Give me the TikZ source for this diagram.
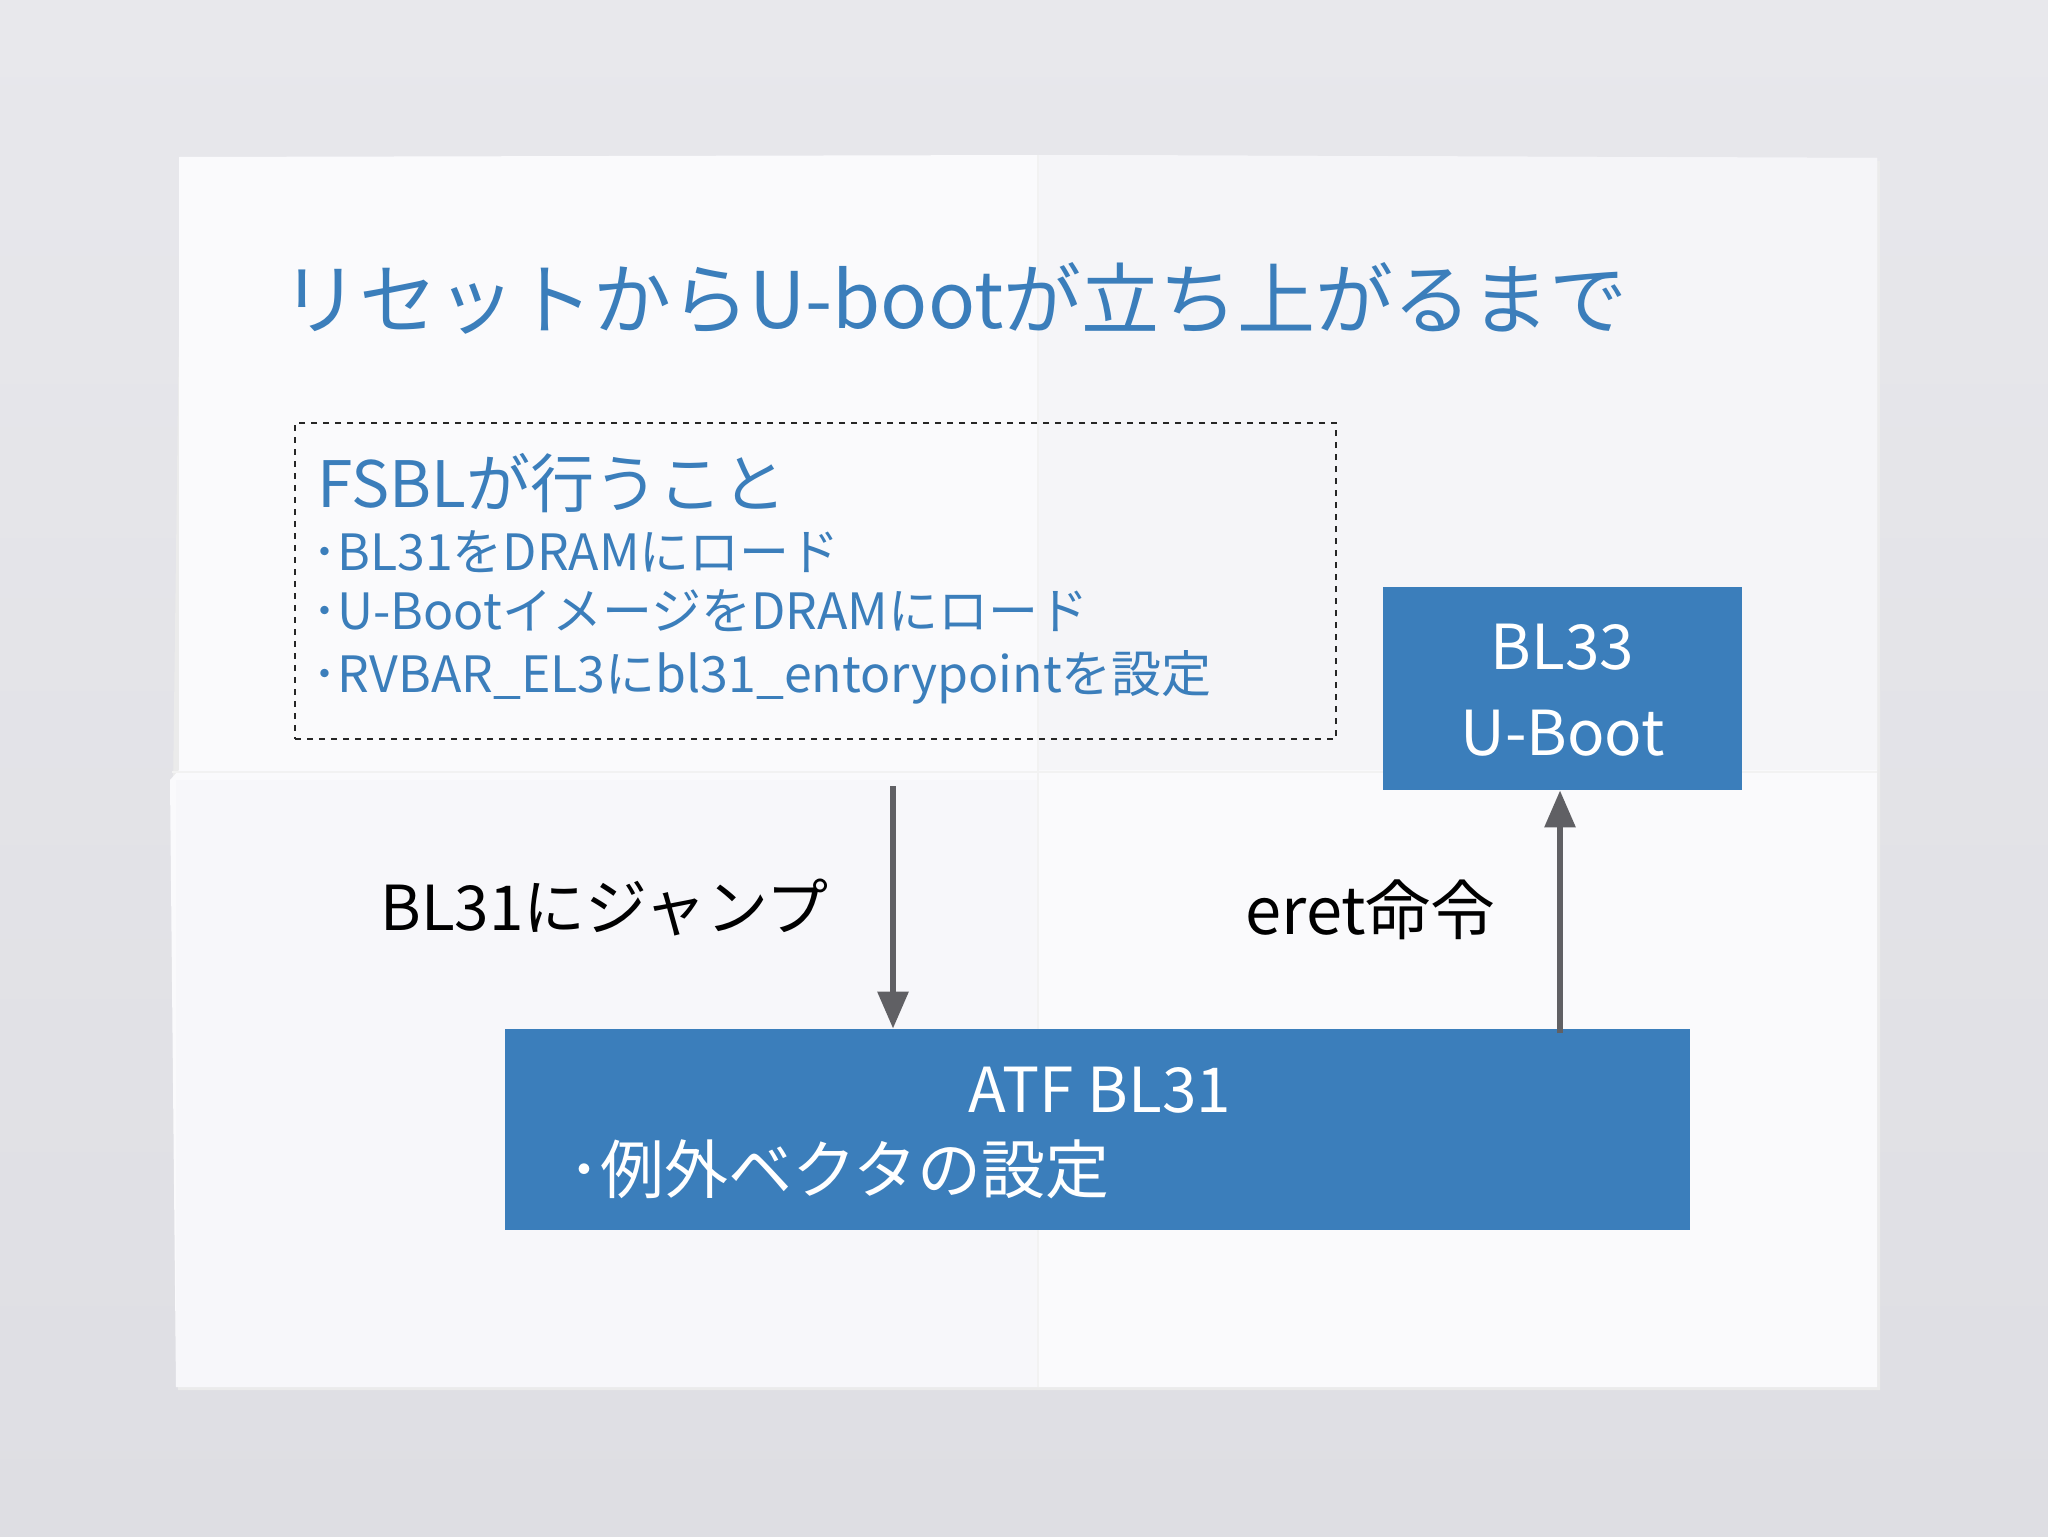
\documentclass[tikz,border=0pt]{standalone}
\usepackage{fontspec}
\setmainfont{Noto Sans CJK JP}
\usetikzlibrary{arrows.meta}
\definecolor{bgtop}{HTML}{E8E8EC}
\definecolor{bgbot}{HTML}{DEDEE3}
\definecolor{paper}{HTML}{FAFAFC}
\definecolor{paperb}{HTML}{F5F5F8}
\definecolor{blu}{HTML}{3B7EBB}
\definecolor{arr}{HTML}{606064}
\tikzset{
  bluebox/.style={fill=blu, draw=none, inner sep=0pt},
  dashbox/.style={draw=black!85, dashed, line width=1pt, inner sep=0pt},
  flow/.style={draw=arr, line width=3pt, -{Triangle[length=18.5pt,width=15pt]}},
  bluetext/.style={text=blu, inner sep=0pt},
  whitetext/.style={text=white, inner sep=0pt},
  blacktext/.style={text=black, inner sep=0pt},
}
\begin{document}
\begin{tikzpicture}[x=0.5pt,y=-0.5pt]
\useasboundingbox (0,0) rectangle (2048,1536);
% background
\shade[top color=bgtop, bottom color=bgbot] (0,0) rectangle (2048,1536);
% paper
\fill[black!8] (181,160) -- (1880,161) -- (1880,1390) -- (178,1390) -- (173,790) -- cycle;
\fill[paper] (179,157) -- (1038,155) -- (1877,158) -- (1877,1387) -- (176,1387) -- (170,780) -- (179,770) -- cycle;
\fill[paperb] (1038,155) -- (1877,158) -- (1877,770) -- (1038,770) -- cycle;
\fill[paperb!60!paper] (176,780) -- (1038,780) -- (1038,1387) -- (176,1387) -- cycle;
\draw[black!5, line width=1pt] (1038,155) -- (1038,1387);
\draw[black!5, line width=1pt] (172,772) -- (1877,772);
% title
\node[bluetext, anchor=west, font=\fontsize{39pt}{44pt}\selectfont] (title) at (281,298) {リセットからU-bootが立ち上がるまで};
% FSBL box
\node[dashbox, minimum width=520.5pt, minimum height=158pt] (fsbl) at (815.5,581) {};
\node[bluetext, anchor=west, font=\fontsize{32pt}{38pt}\selectfont] (fsblhead) at (317,483) {FSBLが行うこと};
\node[bluetext, anchor=west, font=\fontsize{25pt}{30pt}\selectfont] (l1) at (312,552) {･BL31をDRAMにロード};
\node[bluetext, anchor=west, font=\fontsize{25pt}{30pt}\selectfont] (l2) at (312,611) {･U-BootイメージをDRAMにロード};
\node[bluetext, anchor=west, font=\fontsize{25pt}{30pt}\selectfont] (l3) at (312,677) {･RVBAR\_EL3にbl31\_entorypointを設定};
% BL33 box
\node[bluebox, minimum width=179.5pt, minimum height=101.5pt] (bl33) at (1562.5,688.5) {};
\node[whitetext, align=center, font=\fontsize{31pt}{43pt}\selectfont] (bl33t) at (1562.5,690) {BL33\\U-Boot};
% ATF box
\node[bluebox, minimum width=592.5pt, minimum height=100.5pt] (atf) at (1097.5,1129.5) {};
\node[whitetext, font=\fontsize{31pt}{36pt}\selectfont] (atft) at (1100,1090) {ATF BL31};
\node[whitetext, anchor=west, font=\fontsize{32pt}{36pt}\selectfont] (atfl) at (568,1169) {･例外ベクタの設定};
% arrows
\coordinate (s1) at (893,786);
\draw[flow] (s1) -- (s1 |- atf.north);
\coordinate (s2) at (1560,1033);
\draw[flow] (s2) -- (s2 |- bl33.south);
% labels
\node[blacktext, anchor=west, font=\fontsize{31pt}{36pt}\selectfont] (jump) at (380,908) {BL31にジャンプ};
\node[blacktext, anchor=west, font=\fontsize{32.5pt}{36pt}\selectfont] (eret) at (1245,910) {eret命令};
\end{tikzpicture}
\end{document}
